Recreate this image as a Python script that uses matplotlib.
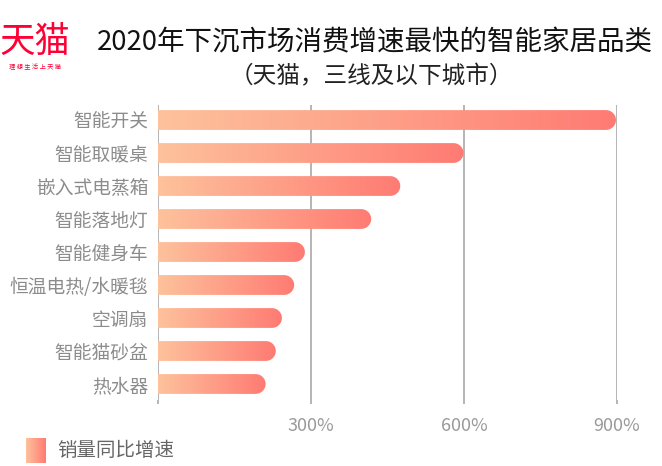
import numpy as np
import matplotlib
matplotlib.use("Agg")
import matplotlib.pyplot as plt
from matplotlib.path import Path
from matplotlib.patches import PathPatch
from matplotlib.colors import LinearSegmentedColormap

plt.rcParams['font.family'] = ['Noto Sans CJK SC', 'DejaVu Sans']

categories = ["智能开关", "智能取暖桌", "嵌入式电蒸箱", "智能落地灯", "智能健身车",
              "恒温电热/水暖毯", "空调扇", "智能猫砂盆", "热水器"]
values = [898, 599, 475, 418, 288, 267, 243, 231, 211]
xticks = [0, 300, 600, 900]
xticklabels = ["", "300%", "600%", "900%"]
title = "2020年下沉市场消费增速最快的智能家居品类"
subtitle = "（天猫，三线及以下城市）"
legend_label = "销量同比增速"

W, H = 662, 466
fig = plt.figure(figsize=(W / 100, H / 100), dpi=100)
ax_l, ax_r, ax_t, ax_b = 158, 617, 105, 400
ax = fig.add_axes([ax_l / W, 1 - ax_b / H, (ax_r - ax_l) / W, (ax_b - ax_t) / H])

n = len(categories)
ax.set_xlim(0, 900)
ax.set_ylim(n - 1 + 0.485, -0.455)

cmap = LinearSegmentedColormap.from_list("g", ["#FDC29C", "#FF7B73"])
grad = np.linspace(0, 1, 256).reshape(1, -1)

xu_per_px = 900 / (ax_r - ax_l)
h = 0.3
r_px = 10
rx = r_px * xu_per_px
for i, v in enumerate(values):
    yc = i
    verts = [(0, yc + h), (v - rx, yc + h)]
    theta2 = np.linspace(np.pi / 2, -np.pi / 2, 30)
    verts += list(zip((v - rx) + rx * np.cos(theta2), yc + h * np.sin(theta2)))
    verts += [(0, yc - h), (0, yc + h)]
    path = Path(verts, closed=True)
    patch = PathPatch(path, facecolor="none", edgecolor="none")
    ax.add_patch(patch)
    im = ax.imshow(grad, extent=(0, v, yc + h, yc - h), aspect="auto",
                   cmap=cmap, interpolation="bilinear", zorder=3)
    im.set_clip_path(patch)

ax.set_xlim(0, 900)
ax.set_ylim(n - 1 + 0.485, -0.455)

ax.set_xticks(xticks)
ax.set_xticklabels(xticklabels)
ax.set_yticks(range(n))
ax.set_yticklabels(categories)
ax.grid(axis="x", color="#A0A0A0", linewidth=1.1, zorder=1)
ax.set_axisbelow(True)
for s in ax.spines.values():
    s.set_visible(False)
ax.tick_params(axis="x", length=3, width=1.1, color="#A0A0A0", pad=9,
               labelsize=13, labelcolor="#9A9A9A")
ax.tick_params(axis="y", length=0, pad=7, labelsize=13.5, labelcolor="#8C8C8C")

# Title and subtitle
fig.text(375 / W, 1 - 43 / H, title, ha="center", va="center", fontsize=19.8, color="#111111")
fig.text(371 / W, 1 - 77 / H, subtitle, ha="center", va="center", fontsize=17, color="#222222")

# Logo
fig.text(35 / W, 1 - 42 / H, "天猫", ha="center", va="center", fontsize=25.5, color="#FF0036")
fig.text(35 / W, 1 - 67 / H, "理 想 生 活 上 天 猫", ha="center", va="center", fontsize=4.5, color="#FF0036")

# Legend
lax = fig.add_axes([26 / W, 1 - 463 / H, 20 / W, 25 / H])
lax.imshow(grad, aspect="auto", cmap=cmap, extent=(0, 1, 0, 1))
lax.set_axis_off()
fig.text(57 / W, 1 - 451 / H, legend_label, ha="left", va="center", fontsize=14, color="#666666")

fig.savefig("out.png", dpi=100)
